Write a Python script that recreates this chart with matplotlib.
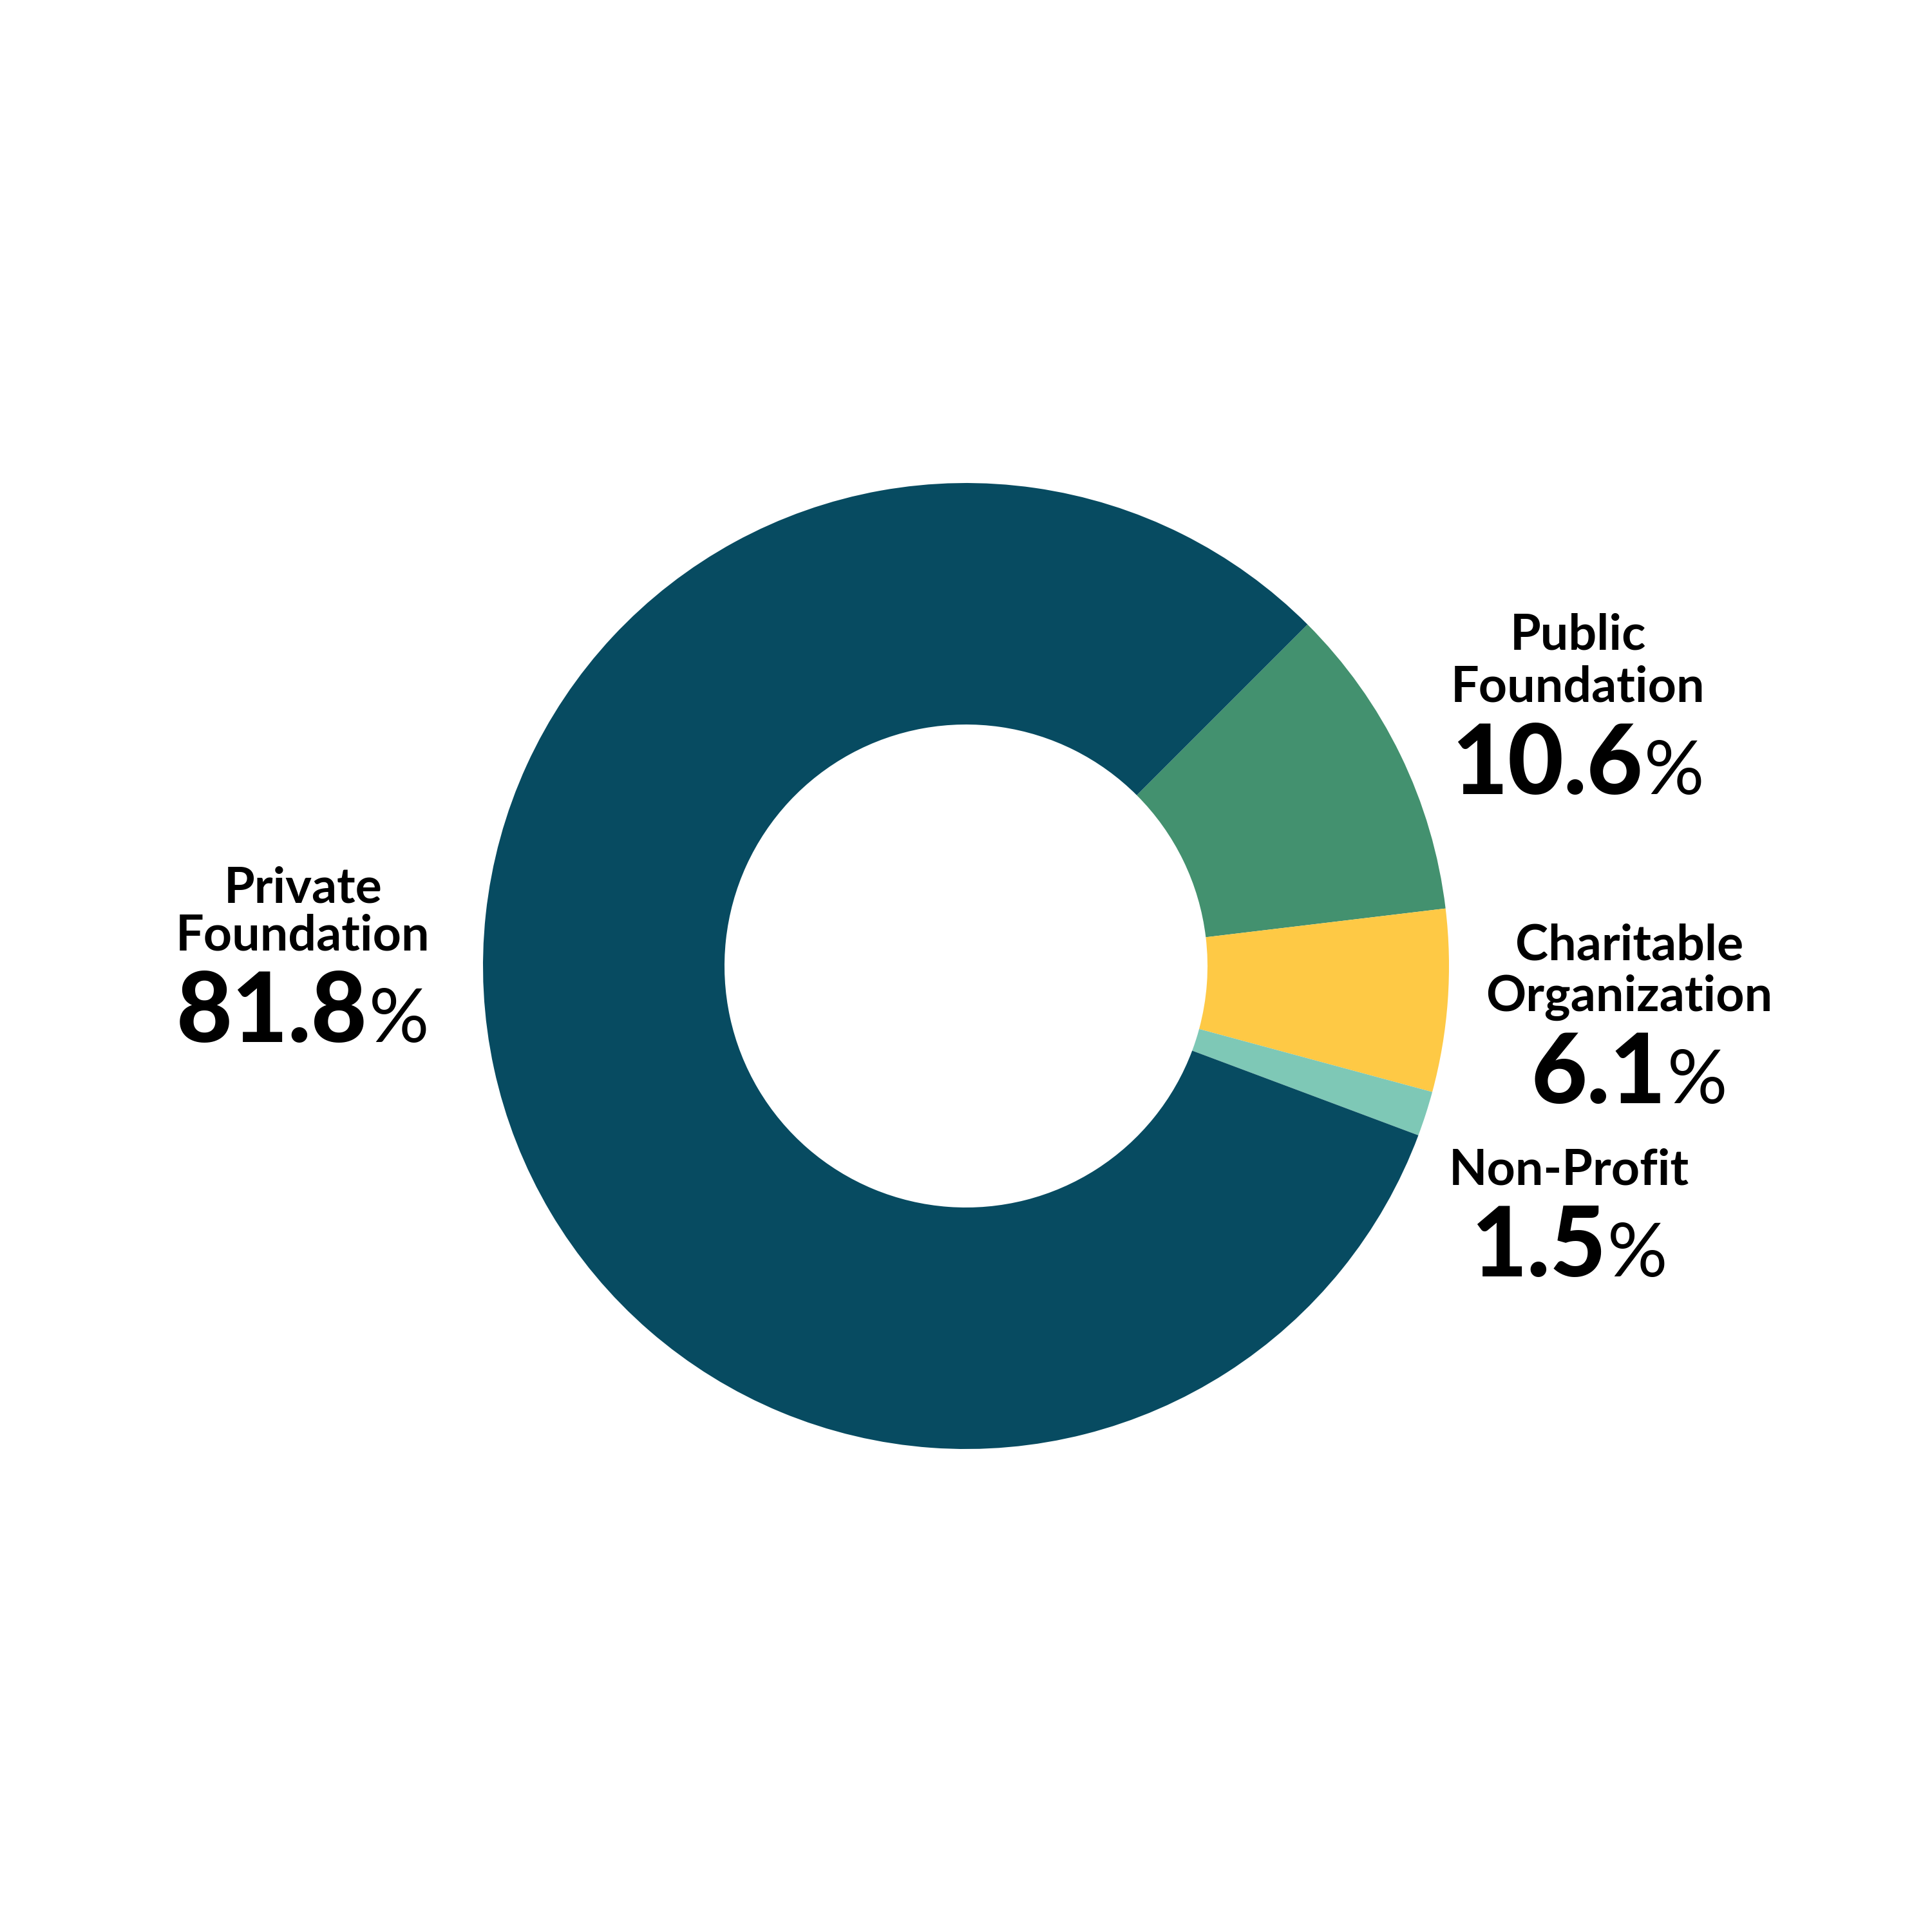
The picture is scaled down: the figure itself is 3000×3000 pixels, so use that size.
import matplotlib
matplotlib.use("Agg")
import matplotlib.pyplot as plt

# ---- data ----
categories = ["Public\nFoundation", "Charitable\nOrganization", "Non-Profit", "Private\nFoundation"]
values = [10.6, 6.1, 1.5, 81.8]
value_labels = ["10.6", "6.1", "1.5", "81.8"]
colors = ["#43916F", "#FEC945", "#7EC8B6", "#074B61"]

# ---- layout (data units; ring radius = 1) ----
label_x = [1.267, 1.373, 1.249, -1.373]
label_line_y = [[0.655, 0.548], [0.013, -0.093], [-0.452], [0.131, 0.033]]
number_y = [0.356, -0.284, -0.643, -0.157]

FONT = ["Lato", "DejaVu Sans"]

fig = plt.figure(figsize=(10, 10), dpi=300)
fig.patch.set_facecolor("white")
ax = fig.add_axes([0, 0, 1, 1])
ax.pie(values, colors=colors, startangle=45, counterclock=False, radius=1,
       center=(0, 0), wedgeprops=dict(width=0.5, linewidth=0))
ax.set_xlim(-2, 2)
ax.set_ylim(-2, 2)
ax.set_aspect("equal")
ax.axis("off")

renderer = fig.canvas.get_renderer()
px_per_unit = 3000 / 4.0

for cat, lx, lys, ny, vl in zip(categories, label_x, label_line_y, number_y, value_labels):
    for line, ly in zip(cat.split("\n"), lys):
        ax.text(lx, ly, line, ha="center", va="baseline", fontsize=18.5,
                fontweight="bold", family=FONT, color="black")
    tn = ax.text(0, ny, vl, ha="left", va="baseline", fontsize=36,
                 fontweight="black", family=FONT, color="black")
    tp = ax.text(0, ny, "%", ha="left", va="baseline", fontsize=28,
                 fontweight="normal", family=FONT, color="black")
    wn = tn.get_window_extent(renderer).width / px_per_unit
    wp = tp.get_window_extent(renderer).width / px_per_unit
    gap = 2 / px_per_unit
    x0 = lx - (wn + gap + wp) / 2
    tn.set_x(x0)
    tp.set_x(x0 + wn + gap)

fig.savefig("out.png", dpi=300, facecolor="white")
